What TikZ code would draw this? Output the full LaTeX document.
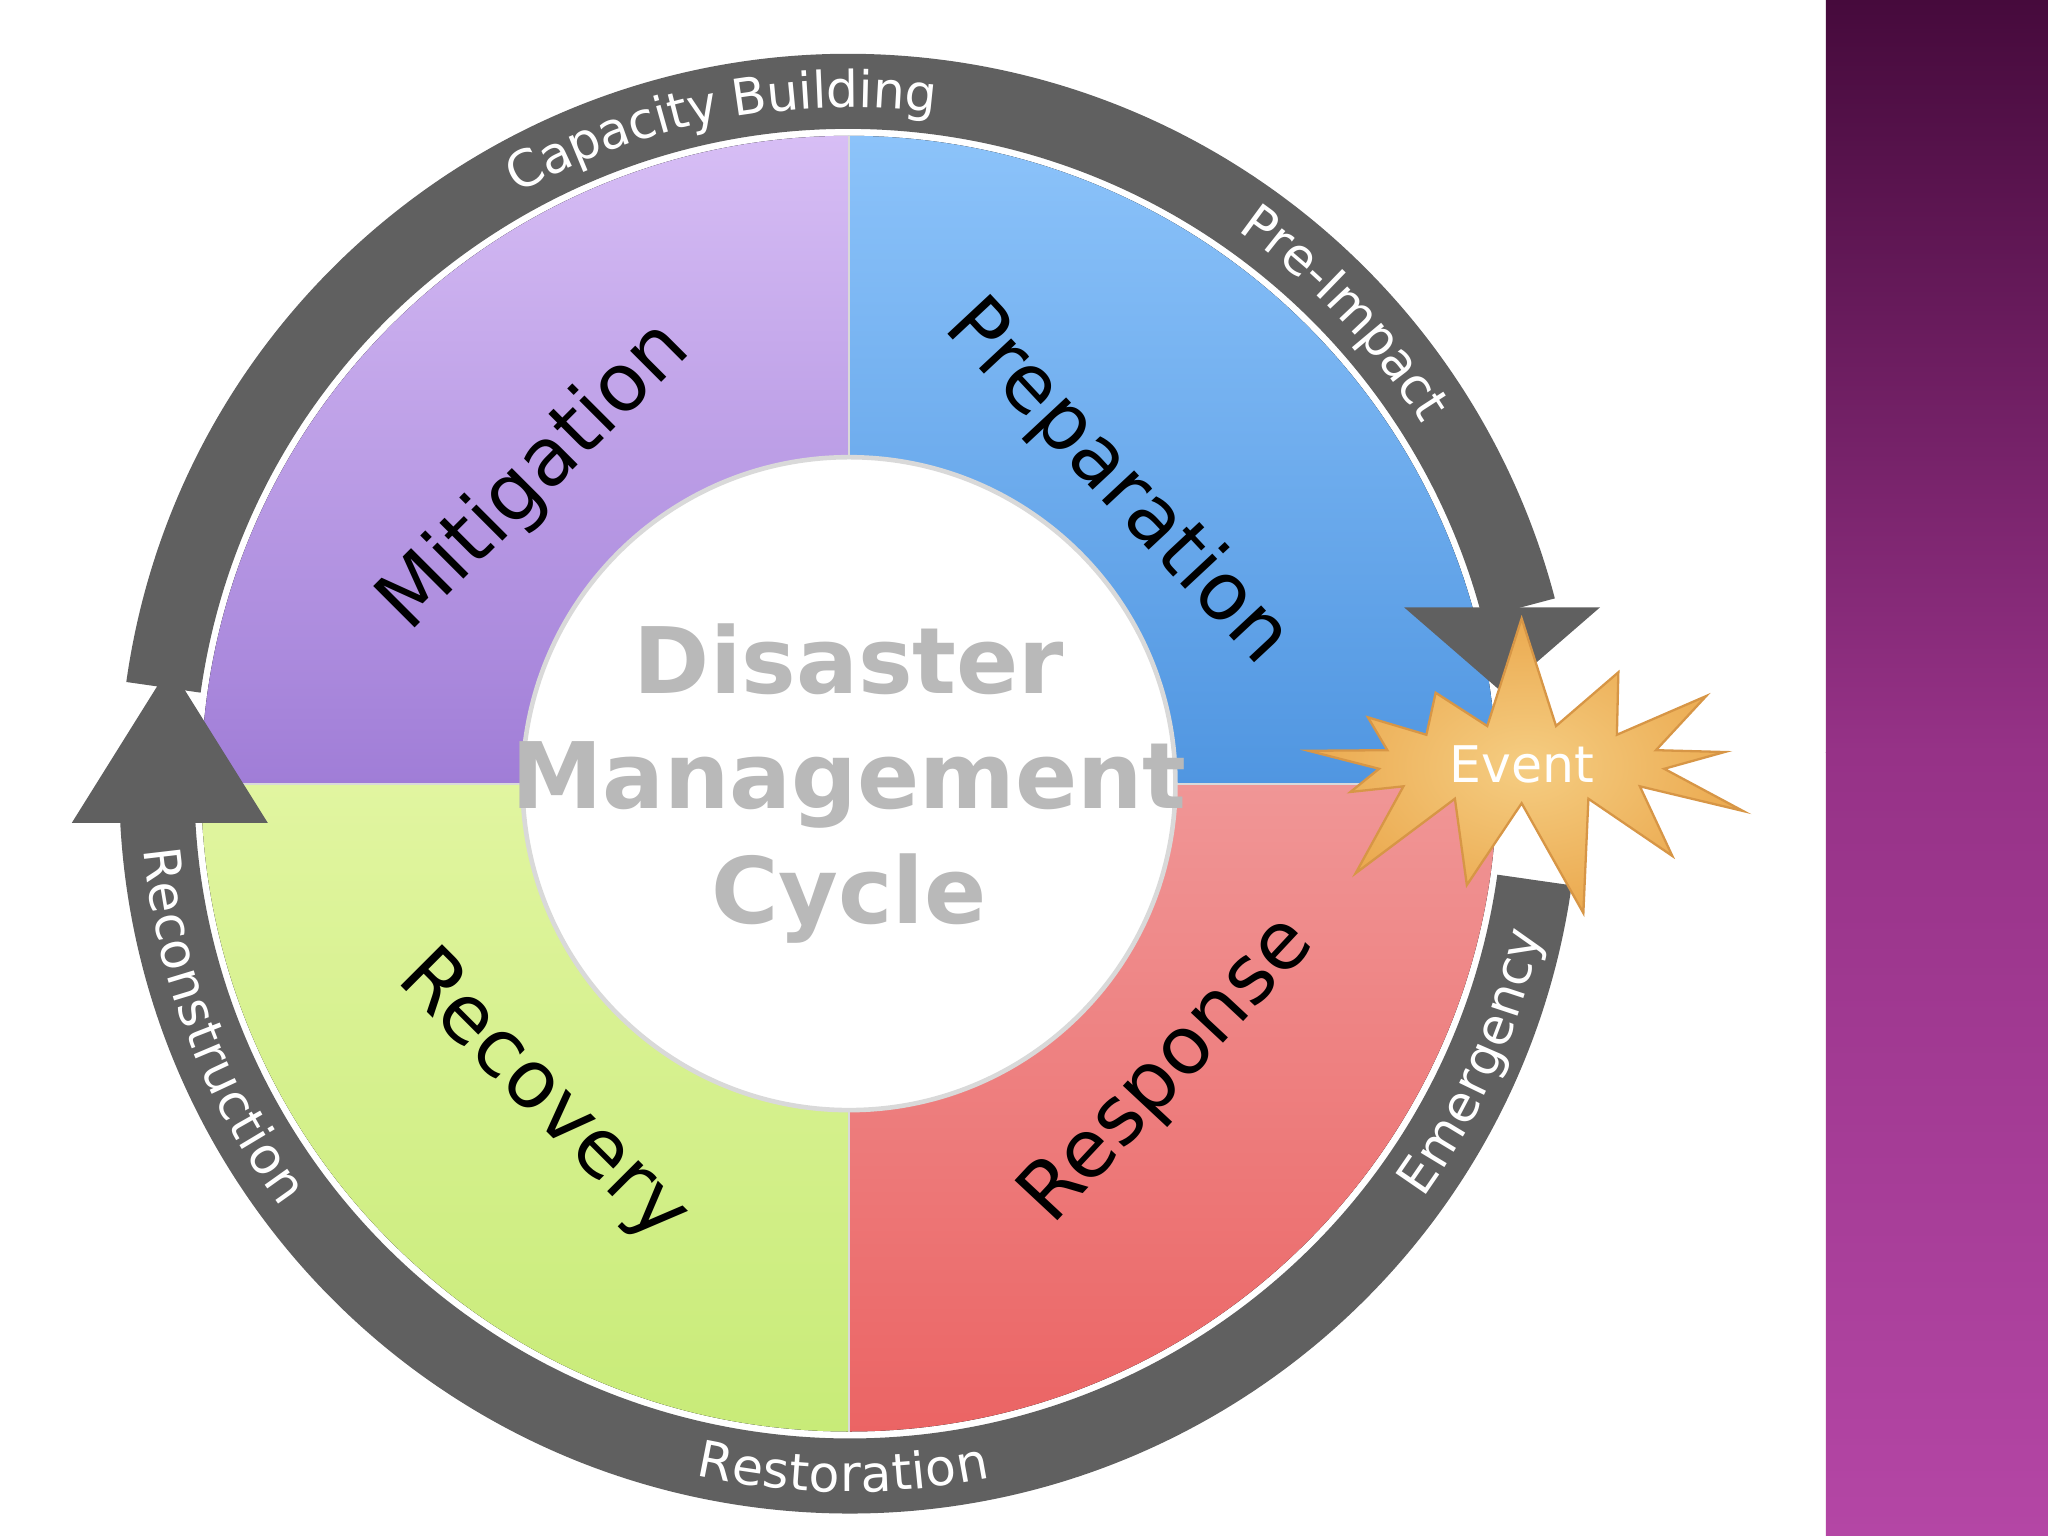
\documentclass[tikz,border=0pt]{standalone}
\usepackage{fontspec}
\setmainfont{DejaVu Sans}
\usetikzlibrary{arrows.meta,decorations.text,shapes.symbols,shadings}
\begin{document}
\begin{tikzpicture}[x=0.02cm,y=0.02cm,
  ring/.style={line width=1.15cm,draw=gray!75!black},
  head/.style={fill=gray!75!black},
  ringtext/.style={decorate,decoration={text along path,text align=center,text color=white,raise=-7pt,
     text={|\fontsize{22}{22}\selectfont|#1}}},
  quadlabel/.style={font=\fontsize{35}{35}\selectfont,text=black}]
\useasboundingbox (0,0) rectangle (1568,1176);
\fill[white] (0,0) rectangle (1568,1176);
\fill[top color={rgb,255:red,70;green,10;blue,60},bottom color={rgb,255:red,150;green,50;blue,135}] (1398,600) rectangle (1568,1176);
\fill[top color={rgb,255:red,150;green,50;blue,135},bottom color={rgb,255:red,180;green,70;blue,165}] (1398,0) rectangle (1568,600);
\coordinate (C) at (650,576);
% quadrants
\fill[top color={rgb,255:red,215;green,190;blue,245},bottom color={rgb,255:red,160;green,125;blue,215}] (C) -- ++(90:496) arc[start angle=90,end angle=180,radius=496] -- cycle;
\fill[top color={rgb,255:red,140;green,195;blue,250},bottom color={rgb,255:red,80;green,150;blue,225}] (C) -- ++(0:496) arc[start angle=0,end angle=90,radius=496] -- cycle;
\fill[top color={rgb,255:red,225;green,245;blue,160},bottom color={rgb,255:red,200;green,235;blue,120}] (C) -- ++(180:496) arc[start angle=180,end angle=270,radius=496] -- cycle;
\fill[top color={rgb,255:red,240;green,150;blue,150},bottom color={rgb,255:red,235;green,100;blue,100}] (C) -- ++(270:496) arc[start angle=270,end angle=360,radius=496] -- cycle;
\draw[white!70!gray,line width=1pt] (C) -- ++(90:496) (C) -- ++(270:496) (C) -- ++(0:496) (C) -- ++(180:496);
\node[circle,fill=white,draw=gray!30,line width=2pt,minimum size=10cm] (hub) at (C) {};
\node[align=center,font=\bfseries\fontsize{40}{50}\selectfont,text=gray!55] (title) at (C)
  {Disaster\\Management\\Cycle};
% ring arcs
\draw[ring] (C) ++(172:530) arc[start angle=172,end angle=14.7,radius=530];
\fill[head] (1075,711) coordinate (r1) -- (1225,711) coordinate (r2) -- (1150,646) coordinate (rt) -- cycle;
\draw[ring] (C) ++(-8:530) arc[start angle=-8,end angle=-177,radius=530];
\fill[head] (55,546) coordinate (l1) -- (205,546) coordinate (l2) -- (130,666) coordinate (lt) -- cycle;
% ring labels
\path[ringtext={Capacity Building}] (C) ++(128:530) arc[start angle=128,end angle=74,radius=530];
\path[ringtext={Pre-Impact}] (C) ++(62:530) arc[start angle=62,end angle=25,radius=530];
\path[ringtext={Emergency}] (C) ++(-44:530) arc[start angle=-44,end angle=-4,radius=530];
\path[ringtext={Restoration}] (C) ++(-110:530) arc[start angle=-110,end angle=-71,radius=530];
\path[ringtext={Reconstruction}] (C) ++(178:530) arc[start angle=178,end angle=224,radius=530];
% quadrant labels
\node[quadlabel,rotate=45] (mit) at (410,811) {Mitigation};
\node[quadlabel,rotate=-47] (prep) at (855,806) {Preparation};
\node[quadlabel,rotate=-45] (rec) at (415,336) {Recovery};
\node[quadlabel,rotate=47] (resp) at (895,356) {Response};
% event
\node[starburst,starburst points=13,starburst point height=1.8cm,random starburst=7,
  draw={rgb,255:red,215;green,150;blue,70},line width=1pt,
  inner color={rgb,255:red,245;green,205;blue,130},outer color={rgb,255:red,235;green,170;blue,80},
  minimum width=8cm,minimum height=4.8cm,font=\fontsize{22}{22}\selectfont,text=white] (event) at (1165,591) {Event};
\end{tikzpicture}
\end{document}
